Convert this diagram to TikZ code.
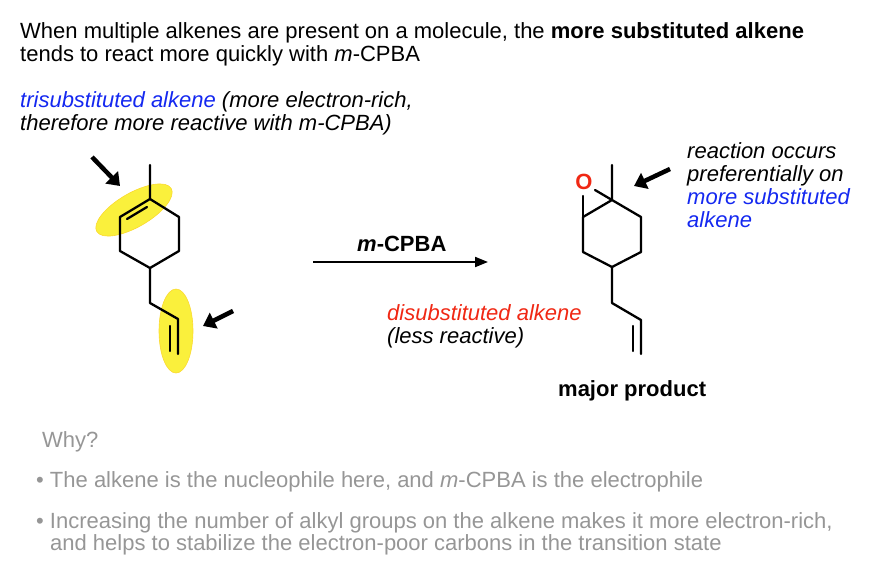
\documentclass[tikz,border=0pt]{standalone}
\usepackage{fontspec}
\setmainfont{Liberation Sans}
\usetikzlibrary{arrows.meta}
\definecolor{rblue}{RGB}{20,40,240}
\definecolor{rred}{RGB}{240,40,20}
\definecolor{rgray}{RGB}{150,150,150}
\definecolor{hl}{RGB}{250,240,60}
\begin{document}
\begin{tikzpicture}[x=1pt,y=-1pt,
  txt/.style={anchor=base west,inner sep=0,font=\fontsize{22}{26}\selectfont},
  bond/.style={line width=2.3pt,line join=round,line cap=round},
  pointer/.style={line width=4.5pt,-{Triangle[length=12pt,width=17pt]}},
  glow/.style={fill=hl,draw=hl!80!orange,line width=0.6pt}]
\useasboundingbox (0,0) rectangle (880,578);
% texts
\node[txt] (t1) at (20,39) {When multiple alkenes are present on a molecule, the \textbf{more substituted alkene}};
\node[txt] (t2) at (20,62) {tends to react more quickly with \textit{m}-CPBA};
\node[txt,text=rblue] (b1) at (20,107) {\textit{trisubstituted alkene}\ \textcolor{black}{\textit{(more electron-rich,}}};
\node[txt] (b2) at (20,130) {\textit{therefore more reactive with m-CPBA)}};
\node[txt] (r1) at (687,158) {\textit{reaction occurs}};
\node[txt] (r2) at (687,181) {\textit{preferentially on}};
\node[txt,text=rblue] (r3) at (687,204) {\textit{more substituted}};
\node[txt,text=rblue] (r4) at (687,227) {\textit{alkene}};
\node[txt,text=rred] (d1) at (387,320) {\textit{disubstituted alkene}};
\node[txt] (d2) at (387,343) {\textit{(less reactive)}};
\node[txt] (mp) at (558,396) {\textbf{major product}};
\node[txt,text=rgray] (w) at (42,447) {Why?};
\node[txt,text=rgray] (p1) at (36,487) {• The alkene is the nucleophile here, and \textit{m}-CPBA is the electrophile};
\node[txt,text=rgray] (p2) at (36,528) {• Increasing the number of alkyl groups on the alkene makes it more electron-rich,};
\node[txt,text=rgray] (p3) at (50,550) {and helps to stabilize the electron-poor carbons in the transition state};
% highlights
\fill[glow] (134,210) ellipse[x radius=43,y radius=17,rotate=30];
\fill[glow] (176,331) ellipse[x radius=17,y radius=42];
% left molecule
\coordinate (m) at (150,165);
\coordinate (a1) at (150,199); \coordinate (a2) at (120,217); \coordinate (a3) at (120,251);
\coordinate (a4) at (150,268); \coordinate (a5) at (179,251); \coordinate (a6) at (179,217);
\coordinate (c1) at (150,303); \coordinate (c2) at (178,319); \coordinate (c3) at (178,354);
\draw[bond] (m)--(a1)--(a2)--(a3)--(a4)--(a5)--(a6)--(a1);
\draw[bond] (147,207)--(127,219);
\draw[bond] (a4)--(c1)--(c2)--(c3);
\draw[bond] (170,326)--(170,351);
% arrows
\coordinate (p1s) at (92,157); \coordinate (p1e) at (120,186);
\draw[pointer] (p1s)--(p1e);
\coordinate (p2s) at (233,311); \coordinate (p2e) at (203,326);
\draw[pointer] (p2s)--(p2e);
\coordinate (p3s) at (670,169); \coordinate (p3e) at (634,186);
\draw[pointer] (p3s)--(p3e);
% reaction arrow
\coordinate (ra) at (313,262); \coordinate (rb) at (488,262);
\draw[line width=2pt,-{Triangle[length=13pt,width=10pt]}] (ra)--(rb);
\node[txt] (reag) at (357,251) {\textbf{\textit{m}-CPBA}};
% right molecule
\coordinate (n) at (612,165);
\coordinate (e1) at (612,200); \coordinate (e2) at (583,217); \coordinate (e3) at (583,252);
\coordinate (e4) at (612,267); \coordinate (e5) at (641,252); \coordinate (e6) at (641,217);
\coordinate (f1) at (612,303); \coordinate (f2) at (641,320); \coordinate (f3) at (641,354);
\node[text=rred,font=\fontsize{22}{26}\selectfont\bfseries,inner sep=1pt] (O) at (584,182) {O};
\draw[bond] (n)--(e1)--(e2)--(e3)--(e4)--(e5)--(e6)--(e1);
\draw[bond] (583,196)--(e2);
\draw[bond] (595,190)--(e1);
\draw[bond] (e4)--(f1)--(f2)--(f3);
\draw[bond] (633,326)--(633,351);
\end{tikzpicture}
\end{document}
